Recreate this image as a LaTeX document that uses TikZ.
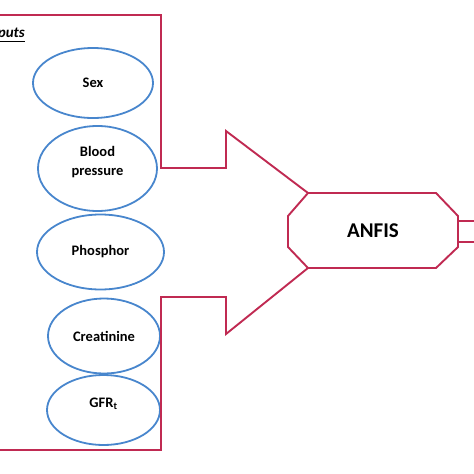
\documentclass[tikz,border=0pt]{standalone}
\usepackage{fontspec}
\setmainfont{Carlito}
\usepackage{tikz}
\usetikzlibrary{shapes,positioning}
\definecolor{darkpink}{RGB}{192,42,82}
\definecolor{lightblue}{RGB}{72,134,205}

\begin{document}
\begin{tikzpicture}[x=1pt,y=-1pt]
\tikzstyle{input}=[ellipse, draw=lightblue, line width=1.8pt, inner sep=0pt, align=center, font=\bfseries\fontsize{14.5}{19}\selectfont]
\tikzstyle{frame}=[draw=darkpink, line width=1.9pt, line join=miter]
\tikzstyle{title}=[inner sep=0pt, font=\bfseries\itshape\fontsize{15}{18}\selectfont]
\useasboundingbox (0,0) rectangle (474,474);

% inputs
\node[title, anchor=base east] (head) at (25,37) {\underline{Inputs}};
\node[input, minimum width=120pt, minimum height=70pt] (sex) at (93,83) {Sex};
\node[input, minimum width=119pt, minimum height=85pt] (bp) at (97.5,168.5) {Blood\\pressure\\[-4pt]};
\node[input, minimum width=127pt, minimum height=75pt] (phos) at (100.5,252) {Phosphor};
\node[input, minimum width=112pt, minimum height=75pt] (crea) at (104,336) {Creatinine};
\node[input, minimum width=113pt, minimum height=70pt] (gfr) at (103.5,410) {GFR\textsubscript{t}\\[-4pt]};

% ANFIS box
\coordinate (a1) at (308,193);
\coordinate (a2) at (436,193);
\coordinate (a3) at (458,216);
\coordinate (a4) at (458,247);
\coordinate (a5) at (436,268);
\coordinate (a6) at (308,268);
\coordinate (a7) at (288,247);
\coordinate (a8) at (288,216);
\draw[frame] (a1) -- (a2) -- (a3) -- (a4) -- (a5) -- (a6) -- (a7) -- (a8) -- cycle;
\node[font=\bfseries\fontsize{21}{24}\selectfont] (anfis) at (373,230.5) {ANFIS};

% arrow
\draw[frame] (0,15) -- (161,15) -- (161,168) -- (226,168) -- (226,131) -- (a1);
\draw[frame] (0,450) -- (161,450) -- (161,297) -- (226,297) -- (226,334) -- (a6);

% output
\coordinate (o1) at (474,221);
\coordinate (o2) at (474,242);
\draw[frame] (458,221) -- (o1);
\draw[frame] (458,242) -- (o2);
\end{tikzpicture}
\end{document}
